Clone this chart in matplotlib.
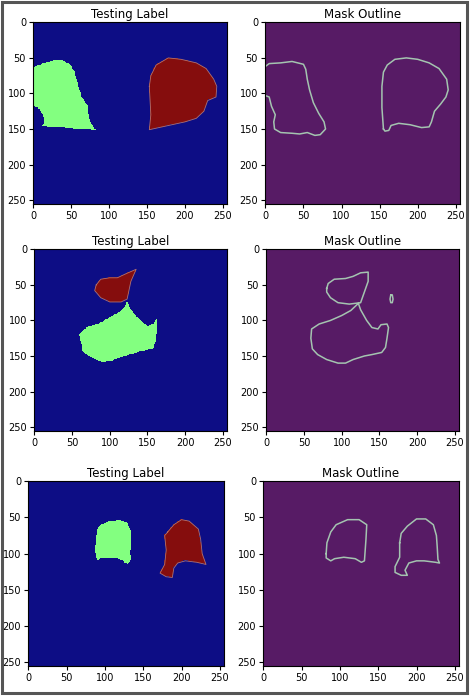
import numpy as np
import matplotlib
matplotlib.use("Agg")
import matplotlib.pyplot as plt
from matplotlib.path import Path
from matplotlib.patches import Rectangle

N = 256
ticks = [0, 50, 100, 150, 200, 250]

# label polygons (x, y) in pixel coords, y down
green_1 = [(0, 64), (15, 57), (35, 53), (48, 58), (55, 70), (60, 90), (64, 105), (72, 118),
           (75, 140), (83, 152), (12, 146), (15, 140), (13, 130), (7, 121), (0, 117)]
red_1 = [(153, 90), (155, 75), (162, 60), (178, 50), (195, 52), (215, 57), (228, 65), (238, 80),
         (242, 90), (241, 105), (230, 110), (225, 125), (215, 135), (200, 140), (170, 147),
         (153, 151), (155, 130), (154, 110)]
green_2 = [(123, 74), (128, 85), (135, 95), (142, 102), (150, 108), (157, 106), (162, 98),
           (162, 110), (161, 130), (157, 140), (145, 143), (130, 147), (115, 152), (100, 158),
           (90, 159), (78, 154), (65, 145), (62, 132), (60, 120), (70, 110), (85, 105),
           (100, 96), (110, 90), (118, 84)]
red_2 = [(82, 50), (88, 42), (100, 40), (110, 40), (120, 35), (135, 28), (128, 45), (123, 70),
         (115, 74), (100, 74), (88, 68), (80, 58)]
green_3 = [(90, 68), (95, 60), (110, 55), (120, 54), (130, 58), (134, 70), (135, 85), (133, 100),
           (135, 108), (130, 115), (123, 110), (115, 106), (105, 106), (95, 107), (90, 110),
           (88, 95)]
red_3 = [(182, 70), (190, 60), (200, 53), (210, 55), (222, 66), (225, 80), (227, 100),
         (232, 115), (220, 112), (205, 110), (195, 113), (190, 120), (188, 133), (180, 132),
         (172, 127), (178, 115), (180, 95), (178, 75)]

# predicted mask outlines
outline_1a = [(0, 62), (5, 58), (20, 57), (35, 55), (50, 59), (53, 66), (55, 80), (58, 95),
              (63, 113), (70, 128), (77, 140), (79, 150), (72, 158), (65, 159), (55, 155),
              (45, 157), (35, 156), (20, 155), (12, 150), (11, 140), (13, 130), (8, 118),
              (5, 105), (0, 103)]
outline_1b = [(155, 150), (153, 120), (153, 90), (155, 70), (160, 60), (170, 52), (185, 50),
              (200, 52), (215, 57), (228, 65), (238, 80), (240, 95), (237, 105), (230, 115),
              (222, 125), (218, 140), (215, 147), (205, 148), (190, 144), (175, 142),
              (165, 145), (162, 152), (157, 153), (155, 150)]
outline_2a = [(80, 55), (82, 48), (90, 42), (105, 41), (115, 38), (125, 33), (135, 32),
              (135, 45), (130, 60), (125, 75), (110, 77), (95, 75), (85, 68), (80, 60), (80, 55)]
outline_2b = [(122, 76), (112, 86), (100, 93), (85, 100), (70, 105), (60, 112), (59, 125),
              (61, 140), (68, 148), (80, 155), (95, 160), (105, 160), (115, 155), (130, 150),
              (140, 148), (153, 145), (158, 138), (160, 125), (162, 110), (160, 105),
              (152, 106), (148, 112), (140, 110), (133, 100), (125, 85), (122, 76)]
outline_2c = [(165, 64), (167, 64), (168, 70), (167, 75), (165, 75), (164, 70), (165, 64)]
outline_3a = [(82, 100), (83, 85), (88, 70), (95, 60), (110, 53), (125, 53), (135, 60),
              (134, 80), (133, 95), (132, 110), (128, 112), (120, 107), (105, 105), (93, 107),
              (88, 110), (82, 106), (82, 100)]
outline_3b = [(178, 85), (180, 72), (188, 62), (200, 52), (212, 52), (222, 60), (226, 75),
              (227, 90), (228, 108), (230, 113), (225, 112), (210, 110), (200, 110), (190, 113),
              (185, 123), (188, 130), (180, 130), (172, 126), (172, 118), (178, 105), (178, 85)]

rows = [
    (green_1, red_1, [outline_1a, outline_1b]),
    (green_2, red_2, [outline_2a, outline_2b, outline_2c]),
    (green_3, red_3, [outline_3a, outline_3b]),
]

W, H = 474, 697
# axes boxes in pixels: (left, top, right, bottom)
boxes = [
    [(33, 22, 227, 204), (265, 22, 460, 204)],
    [(34, 249, 227, 431), (266, 249, 459, 431)],
    [(28, 481, 224, 666), (263, 481, 459, 666)],
]

yy, xx = np.mgrid[0:N, 0:N]
pts = np.column_stack([xx.ravel() + 0.5, yy.ravel() + 0.5])


def make_label(green, red):
    lab = np.zeros((N, N))
    lab[Path(green).contains_points(pts).reshape(N, N)] = 1
    lab[Path(red).contains_points(pts).reshape(N, N)] = 2
    return lab


def style(ax, title):
    ax.set_title(title, fontsize=8.5, pad=3)
    ax.set_xticks(ticks)
    ax.set_yticks(ticks)
    ax.tick_params(labelsize=7, length=3, pad=2)
    ax.set_xlim(-0.5, N - 0.5)
    ax.set_ylim(N - 0.5, -0.5)


fig = plt.figure(figsize=(W / 100, H / 100), dpi=100)

for (green, red, outlines), (bl, br) in zip(rows, boxes):
    l, t, r, b = bl
    ax = fig.add_axes([l / W, 1 - b / H, (r - l) / W, (b - t) / H])
    ax.imshow(make_label(green, red), cmap="jet", vmin=0, vmax=2, aspect="auto",
              interpolation="nearest", alpha=0.95)
    rp = np.array(red + [red[0]])
    ax.plot(rp[:, 0], rp[:, 1], color="#b07070", lw=0.6)
    style(ax, "Testing Label")

    l, t, r, b = br
    ax = fig.add_axes([l / W, 1 - b / H, (r - l) / W, (b - t) / H])
    ax.imshow(np.zeros((N, N)), cmap="viridis", vmin=0, vmax=1, aspect="auto", alpha=0.9)
    for o in outlines:
        o = np.array(o)
        ax.plot(o[:, 0], o[:, 1], color="#a4c4b0", lw=1.1)
    style(ax, "Mask Outline")

fig.patches.append(Rectangle((1.5 / W, 4 / H), 465 / W, 691.5 / H, transform=fig.transFigure,
                             fill=False, edgecolor="#555555", lw=2.2))

fig.savefig("out.png", dpi=100)
